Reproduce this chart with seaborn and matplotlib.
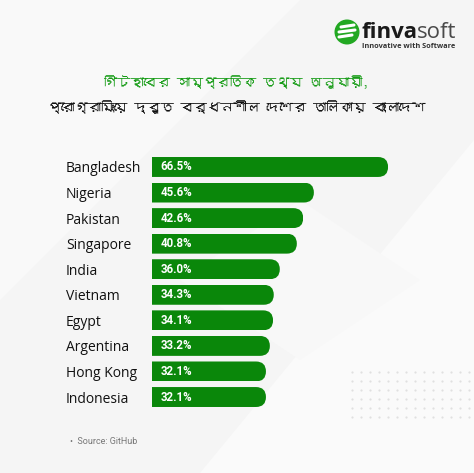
import matplotlib
matplotlib.use("Agg")
import numpy as np
import pandas as pd
import matplotlib.pyplot as plt
import seaborn as sns
from matplotlib import font_manager
from matplotlib.patches import FancyBboxPatch, Circle, Polygon

# chart data
countries = ["Bangladesh", "Nigeria", "Pakistan", "Singapore", "India",
             "Vietnam", "Egypt", "Argentina", "Hong Kong", "Indonesia"]
shares = [66.5, 45.6, 42.6, 40.8, 36.0, 34.3, 34.1, 33.2, 32.1, 32.1]

title_line1 = "গিটহাবের সাম্প্রতিক তথ্য অনুযায়ী,"
title_line2 = "প্রোগ্রামিংয়ে দ্রুত বর্ধনশীল দেশের তালিকায় বাংলাদেশ"
source_note = "Source: GitHub"
brand_bold, brand_light = "finva", "soft"
brand_tagline = "Innovative with Software"

BAR_GREEN = "#0a870a"
TITLE_GREEN = "#179c17"
W, H = 474, 473


def find_bengali_font():
    # look for any installed font that has Bengali glyphs
    try:
        from fontTools.ttLib import TTFont
    except ImportError:
        return None
    for f in font_manager.fontManager.ttflist:
        try:
            tt = TTFont(f.fname, fontNumber=0, lazy=True)
            cmap = tt.getBestCmap()
            if cmap and 0x0997 in cmap and 0x09CD in cmap:
                return f.name
        except Exception:
            continue
    return None


def fit_width(txt, target_px, max_size):
    # shrink a text until it spans about target_px
    fig.canvas.draw()
    w = txt.get_window_extent().width
    if w > target_px:
        txt.set_fontsize(max_size * target_px / w)


sns.set_theme(style="white")
plt.rcParams["font.family"] = ["Open Sans", "DejaVu Sans"]
bn_font = find_bengali_font()
bn_family = [bn_font, "DejaVu Sans"] if bn_font else ["DejaVu Sans"]

fig = plt.figure(figsize=(W / 100, H / 100), dpi=100)
fig.patch.set_facecolor("#f5f5f5")

# background decoration
bg = fig.add_axes([0, 0, 1, 1], zorder=0)
bg.set_xlim(0, W)
bg.set_ylim(H, 0)
bg.axis("off")
bg.add_patch(Polygon([[0, 0], [300, 0], [0, 300]], closed=True, color="#f9f9f9", lw=0))
bg.add_patch(Polygon([[474, 140], [474, 473], [200, 473]], closed=True, color="#fafafa", lw=0))
bg.add_patch(Polygon([[180, 280], [300, 200], [420, 280], [300, 360]], closed=True,
                     color="#f8f8f8", lw=0))
gx, gy = np.meshgrid(np.arange(352, 474, 9), np.arange(372, 420, 9))
bg.scatter(gx.ravel(), gy.ravel(), s=2.5, color="#e0e0e0", lw=0)

# logo
bg.add_patch(Circle((347, 32), 12.5, color="#22a822", lw=0))
for dy, x0, x1 in [(-5, 341, 354), (0, 339, 355), (5, 339, 352)]:
    bg.plot([x0, x1], [32 + dy, 32 + dy - 2], color="white", lw=2.2,
            solid_capstyle="round")
t_bold = fig.text(362 / W, 1 - 38 / H, brand_bold, fontsize=16, fontweight="bold",
                  color="#1a1a1a", va="baseline")
fig.canvas.draw()
bb = t_bold.get_window_extent()
fig.text(bb.x1 / W - 0.002, 1 - 38 / H, brand_light, fontsize=16, color="#4a4a4a",
         va="baseline")
fig.text(362 / W, 1 - 48 / H, brand_tagline, fontsize=5.3, fontweight="bold",
         color="#333333", va="baseline")

# titles
t1 = fig.text(0.5, 1 - 82 / H, title_line1, ha="center", va="center", fontsize=14,
              fontweight="bold", color=TITLE_GREEN, family=bn_family)
t2 = fig.text(0.5, 1 - 107 / H, title_line2, ha="center", va="center", fontsize=13,
              color="#111111", family=bn_family)
fit_width(t1, 265, 14)
fit_width(t2, 375, 13)

# bars
df = pd.DataFrame({"country": countries, "share": shares})
ax_left, ax_top, ax_bot = 152, 154.2, 409.8
ax = fig.add_axes([ax_left / W, 1 - ax_bot / H, (W - ax_left) / W, (ax_bot - ax_top) / H],
                  zorder=2)
ax.patch.set_alpha(0)
sns.barplot(data=df, x="share", y="country", color=BAR_GREEN, saturation=1,
            width=0.78, ax=ax)
ax.set_xlim(0, (W - ax_left) / 3.55)
ax.set_ylim(len(countries) - 0.5, -0.5)

# rounded right ends: clip each bar with a rounded box
px_x = (W - ax_left) / (ax.get_xlim()[1] - ax.get_xlim()[0])
px_y = (ax_bot - ax_top) / len(countries)
for p in ax.patches:
    x0, y0, w, h = p.get_x(), p.get_y(), p.get_width(), p.get_height()
    rx = (h * px_y / 2) / px_x
    clip = FancyBboxPatch((x0 - 3 * rx, y0), w + 3 * rx, h,
                          boxstyle=f"round,pad=0,rounding_size={rx}",
                          mutation_aspect=(h / 2) / rx, transform=ax.transData)
    p.set_clip_path(clip)
    p.set_edgecolor("none")

for i, v in enumerate(shares):
    ax.annotate(f"{v:.1f}%", xy=(0, i), xytext=(6, 0), textcoords="offset points",
                va="center", ha="left", color="white", fontsize=8.3, fontweight="bold",
                family=["Roboto", "DejaVu Sans"])

ax.set_xticks([])
ax.set_xlabel("")
ax.set_ylabel("")
ax.tick_params(axis="y", length=0, pad=(ax_left - 66) * 0.72, labelsize=10,
               labelcolor="#111111")
for lab in ax.get_yticklabels():
    lab.set_ha("left")
sns.despine(ax=ax, left=True, bottom=True)

# source note
fig.text(70 / W, 1 - 441 / H, "•  " + source_note, fontsize=6.5, color="#777777",
         va="center", family=["Roboto", "DejaVu Sans"])

fig.savefig("out.png", dpi=100, facecolor=fig.get_facecolor())
